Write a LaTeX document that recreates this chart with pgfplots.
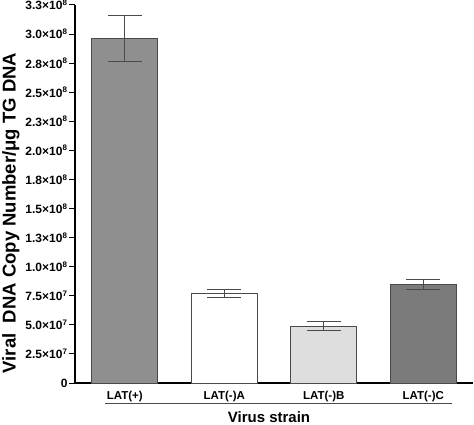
\documentclass[border=0pt]{standalone}
\usepackage{fontspec}
\setmainfont{Liberation Sans}
\usepackage{pgfplots}
\pgfplotsset{compat=1.18}
\definecolor{barA}{HTML}{8F8F8F}
\definecolor{barB}{HTML}{FFFFFF}
\definecolor{barC}{HTML}{DEDEDE}
\definecolor{barD}{HTML}{7B7B7B}
\definecolor{edge}{HTML}{4A4A4A}
\begin{document}
\begin{tikzpicture}
\path[use as bounding box] (0,0) rectangle (474pt,424pt);
\begin{axis}[
  at={(75pt,41pt)}, anchor=south west,
  scale only axis, width=398pt, height=378pt,
  xmin=-0.5, xmax=3.5, ymin=0, ymax=3.25e8,
  axis x line=bottom, axis y line=left,
  axis line style={line width=1.2pt, -},
  xtick={0,1,2,3},
  xticklabels={LAT(+),LAT(-)A,LAT(-)B,LAT(-)C},
  x tick style={draw=none},
  xticklabel style={font=\fontsize{11.5}{13}\selectfont\bfseries, yshift=1pt},
  ytick={0,2.5e7,5e7,7.5e7,1e8,1.25e8,1.5e8,1.75e8,2e8,2.25e8,2.5e8,2.75e8,3e8,3.25e8},
  yticklabels={0,
    2.5×10\textsuperscript{7},
    5.0×10\textsuperscript{7},
    7.5×10\textsuperscript{7},
    1.0×10\textsuperscript{8},
    1.3×10\textsuperscript{8},
    1.5×10\textsuperscript{8},
    1.8×10\textsuperscript{8},
    2.0×10\textsuperscript{8},
    2.3×10\textsuperscript{8},
    2.5×10\textsuperscript{8},
    2.8×10\textsuperscript{8},
    3.0×10\textsuperscript{8},
    3.3×10\textsuperscript{8}},
  yticklabel style={font=\fontsize{12}{13}\selectfont\bfseries, xshift=2pt},
  y tick style={line width=1pt, black},
  tick align=outside, major tick length=6pt,
  scaled y ticks=false,
  clip=false,
  ybar, bar width=66pt,
  error bars/error bar style={line width=1pt, edge},
  error bars/error mark options={rotate=90, mark size=17pt, line width=1pt, edge},
]
\addplot[bar shift=0pt, fill=barA, draw=edge, line width=1pt,
  error bars/.cd, y dir=both, y explicit]
  coordinates {(0,2.96e8) +- (0,0.2e8)};
\addplot[bar shift=0pt, fill=barB, draw=edge, line width=1pt,
  error bars/.cd, y dir=both, y explicit]
  coordinates {(1,0.77e8) +- (0,0.031e8)};
\addplot[bar shift=0pt, fill=barC, draw=edge, line width=1pt,
  error bars/.cd, y dir=both, y explicit]
  coordinates {(2,0.488e8) +- (0,0.04e8)};
\addplot[bar shift=0pt, fill=barD, draw=edge, line width=1pt,
  error bars/.cd, y dir=both, y explicit]
  coordinates {(3,0.848e8) +- (0,0.046e8)};
\end{axis}
\draw[line width=0.9pt, edge] (105pt,21pt) -- (452pt,21pt);
\node[font=\fontsize{15}{17}\selectfont\bfseries, inner sep=0pt, anchor=base] at (269pt,2pt) {Virus strain};
\node[font=\fontsize{18.5}{20}\selectfont\bfseries, rotate=90] at (11pt,211pt) {Viral\ \ DNA Copy Number/μg TG DNA};
\end{tikzpicture}
\end{document}
